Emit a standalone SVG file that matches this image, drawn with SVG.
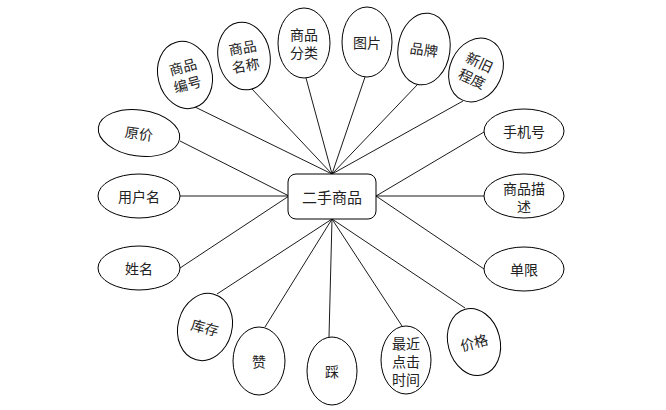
<svg xmlns="http://www.w3.org/2000/svg" width="666" height="410" viewBox="0 0 666 410">
<style>
.e{fill:#fff;stroke:#000;stroke-width:1}
.t{font-family:"Noto Sans CJK SC","Noto Sans",sans-serif;font-size:14px;fill:#222;text-anchor:middle;dominant-baseline:central}
.c line{stroke:#000;stroke-width:0.9}
</style>
<rect width="666" height="410" fill="#fff"/>
<g class="c" id="connectors">
<line x1="195" y1="107" x2="332" y2="174"/>
<line x1="252" y1="89" x2="332" y2="174"/>
<line x1="306" y1="78" x2="332" y2="174"/>
<line x1="365" y1="77" x2="332" y2="174"/>
<line x1="418" y1="84" x2="332" y2="174"/>
<line x1="463" y1="101" x2="332" y2="174"/>
<line x1="180" y1="141" x2="289" y2="196"/>
<line x1="180" y1="196" x2="289" y2="196"/>
<line x1="180" y1="268" x2="289" y2="196"/>
<line x1="484" y1="132" x2="376" y2="196"/>
<line x1="484" y1="196" x2="376" y2="196"/>
<line x1="484" y1="269" x2="376" y2="196"/>
<line x1="217" y1="294" x2="332" y2="219"/>
<line x1="265" y1="327" x2="332" y2="219"/>
<line x1="329" y1="337" x2="332" y2="219"/>
<line x1="402" y1="326" x2="332" y2="219"/>
<line x1="465" y1="308" x2="332" y2="219"/>
</g>
<g id="main">
<rect x="288" y="174" width="88" height="45" rx="8" fill="#fff" stroke="#000" stroke-width="1"/>
<text class="t" x="332" y="196.5" style="font-size:15px">二手商品</text>
</g>
<g id="n1" transform="translate(185,75) rotate(-15)">
<ellipse class="e" rx="27" ry="34"/>
<text class="t" y="-9">商品</text><text class="t" y="9">编号</text>
</g>
<g id="n2" transform="translate(244,56) rotate(-10)">
<ellipse class="e" rx="26" ry="34"/>
<text class="t" y="-9">商品</text><text class="t" y="9">名称</text>
</g>
<g id="n3" transform="translate(304,43)">
<ellipse class="e" rx="26" ry="35"/>
<text class="t" y="-9">商品</text><text class="t" y="9">分类</text>
</g>
<g id="n4" transform="translate(367,42)">
<ellipse class="e" rx="25" ry="35"/>
<text class="t">图片</text>
</g>
<g id="n5" transform="translate(424,49) rotate(8)">
<ellipse class="e" rx="26" ry="36"/>
<text class="t">品牌</text>
</g>
<g id="n6" transform="translate(476,70) rotate(25)">
<ellipse class="e" rx="26" ry="33"/>
<text class="t" y="-9">新旧</text><text class="t" y="9">程度</text>
</g>
<g id="n7" transform="translate(139,133) rotate(8)">
<ellipse class="e" rx="41" ry="23"/>
<text class="t">原价</text>
</g>
<g id="n8" transform="translate(139,196)">
<ellipse class="e" rx="41" ry="22"/>
<text class="t">用户名</text>
</g>
<g id="n9" transform="translate(139,268)">
<ellipse class="e" rx="41" ry="22"/>
<text class="t">姓名</text>
</g>
<g id="n10" transform="translate(524,131)">
<ellipse class="e" rx="40" ry="22"/>
<text class="t">手机号</text>
</g>
<g id="n11" transform="translate(524,196)">
<ellipse class="e" rx="40" ry="22"/>
<text class="t" y="-8">商品描</text><text class="t" y="10">述</text>
</g>
<g id="n12" transform="translate(524,269)">
<ellipse class="e" rx="40" ry="22"/>
<text class="t">单限</text>
</g>
<g id="n13" transform="translate(205,327) rotate(15)">
<ellipse class="e" rx="27" ry="34"/>
<text class="t">库存</text>
</g>
<g id="n14" transform="translate(259,361)">
<ellipse class="e" rx="26" ry="34"/>
<text class="t">赞</text>
</g>
<g id="n15" transform="translate(332,371)">
<ellipse class="e" rx="25" ry="34"/>
<text class="t">踩</text>
</g>
<g id="n16" transform="translate(406,360)">
<ellipse class="e" rx="25" ry="34"/>
<text class="t" y="-17">最近</text><text class="t" y="1">点击</text><text class="t" y="19">时间</text>
</g>
<g id="n17" transform="translate(474,342) rotate(-15)">
<ellipse class="e" rx="26" ry="34"/>
<text class="t">价格</text>
</g>
</svg>
